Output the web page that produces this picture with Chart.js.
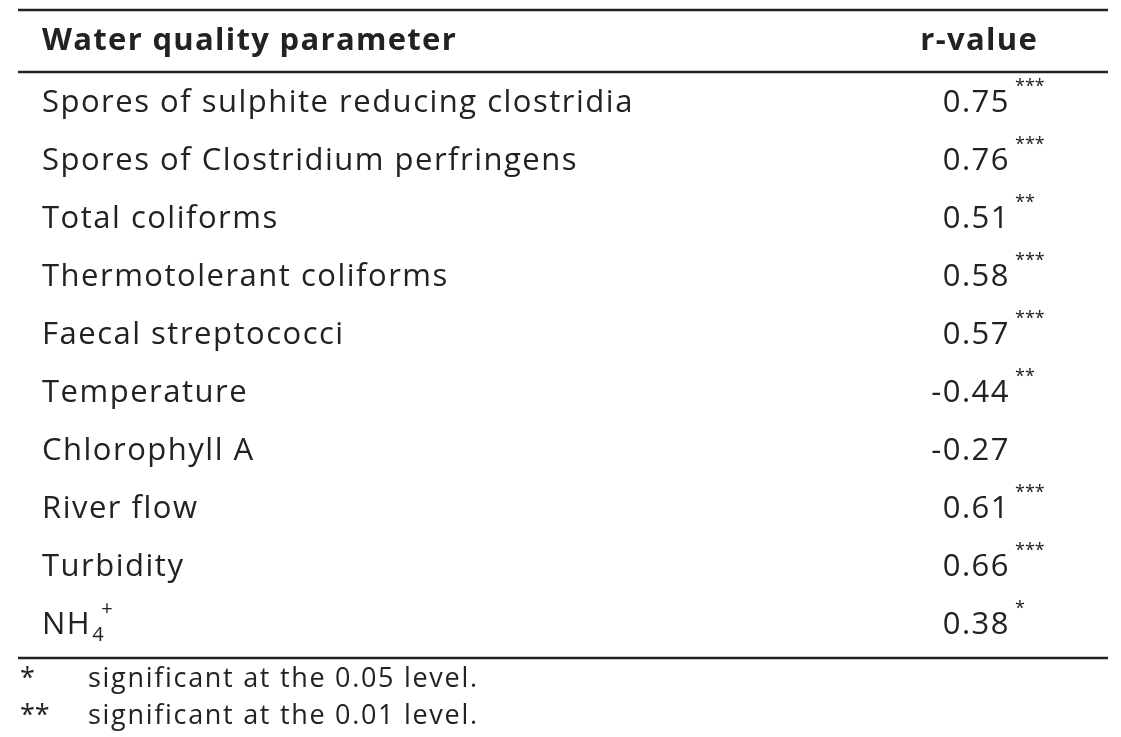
<!DOCTYPE html>
<html><head><meta charset="utf-8">
<script src="https://cdn.jsdelivr.net/npm/chart.js@4"></script>
<style>html,body{margin:0;background:#fff}#wrap{width:1121px;height:737px}</style>
</head><body><div id="wrap"><canvas id="tbl"></canvas></div>
<script>
const headers = ['Water quality parameter', 'r-value'];
const parameters = ['Spores of sulphite reducing clostridia', 'Spores of Clostridium perfringens', 'Total coliforms',
  'Thermotolerant coliforms', 'Faecal streptococci', 'Temperature', 'Chlorophyll A', 'River flow', 'Turbidity', 'NH4+'];
const rValues = [0.75, 0.76, 0.51, 0.58, 0.57, -0.44, -0.27, 0.61, 0.66, 0.38];
const stars = ['***', '***', '**', '***', '***', '**', '', '***', '***', '*'];
const notes = [['*', 'significant at the 0.05 level.'], ['**', 'significant at the 0.01 level.']];

const FONT = '"Open Sans", sans-serif';
const tablePlugin = {
  id: 'table',
  afterDraw(chart) {
    const c = chart.ctx, y = chart.scales.y;
    const L = 18, R = 1108, valX = 1010;
    c.save();
    c.fillStyle = '#222'; c.strokeStyle = '#222';
    c.lineWidth = 2.5;
    [10, 72, 658].forEach(v => { c.beginPath(); c.moveTo(L, v); c.lineTo(R, v); c.stroke(); });
    c.textBaseline = 'middle';
    c.font = 'bold 31px ' + FONT;
    c.letterSpacing = '1.3px';
    c.textAlign = 'left'; c.fillText(headers[0], 42, 41);
    c.textAlign = 'right'; c.fillText(headers[1], 1038, 41);
    parameters.forEach((p, i) => {
      const py = y.getPixelForValue(i);
      c.letterSpacing = '1.5px';
      c.font = '31px ' + FONT; c.textAlign = 'left';
      if (p === 'NH4+') {
        c.fillText('NH', 42, py);
        let w = c.measureText('NH').width;
        c.font = '20px ' + FONT; c.fillText('4', 42 + w + 1, py + 10); c.fillText('+', 42 + w + 10, py - 16);
      } else c.fillText(p, 42, py);
      c.font = '31px ' + FONT; c.textAlign = 'right';
      c.fillText(rValues[i].toFixed(2), valX, py);
      if (stars[i]) {
        c.letterSpacing = '0px';
        c.font = '18px ' + FONT; c.textAlign = 'left'; c.fillText(stars[i], valX + 5, py - 16);
      }
    });
    c.textAlign = 'left';
    notes.forEach((n, i) => {
      const ny = 679 + i * 37;
      c.font = '27px ' + FONT;
      c.letterSpacing = '0px'; c.fillText(n[0], 20, ny);
      c.letterSpacing = '1.7px'; c.fillText(n[1], 88, ny);
    });
    c.restore();
  }
};

new Chart(document.getElementById('tbl'), {
  type: 'scatter',
  data: { datasets: [{ data: rValues.map((v, i) => ({ x: v, y: i })), pointRadius: 0 }] },
  options: {
    responsive: true, maintainAspectRatio: false, animation: false,
    layout: { padding: { top: 74, bottom: 83, left: 0, right: 0 } },
    plugins: { legend: { display: false }, tooltip: { enabled: false } },
    scales: {
      x: { display: false, min: -1, max: 1 },
      y: { display: false, reverse: true, min: -0.5, max: parameters.length - 0.5 }
    }
  },
  plugins: [tablePlugin]
});
</script></body></html>
